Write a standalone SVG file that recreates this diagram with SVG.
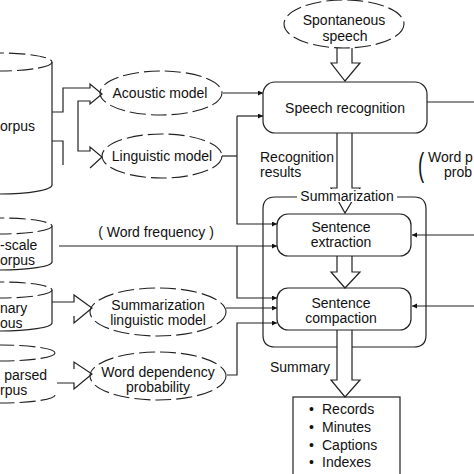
<svg xmlns="http://www.w3.org/2000/svg" width="474" height="474" viewBox="0 0 474 474">
<defs>
<style>
text{font-family:"Liberation Sans",Arial,sans-serif;font-size:14px;fill:#111}
.m{text-anchor:middle}
.e{text-anchor:end}
.ln{fill:none;stroke:#222;stroke-width:1.2}
.dash{fill:none;stroke:#222;stroke-width:1.1;stroke-dasharray:16 5}
.box{fill:#fff;stroke:#222;stroke-width:1.2}
</style>
<marker id="ah" markerWidth="6" markerHeight="6" refX="5" refY="2.5" orient="auto" markerUnits="userSpaceOnUse">
<path d="M0,0 L5,2.5 L0,5 z" fill="#111"/>
</marker>
</defs>
<rect width="474" height="474" fill="#fff"/>

<!-- corpora -->
<g id="corpus1">
<path class="dash" d="M-52,62 A52,9 0 0 1 52,62 M52,62 A52,9 0 0 1 -52,62"/>
<path class="ln" d="M52,62 V185 A52,9 0 0 1 -52,185"/>
<text x="0" y="131">orpus</text>
</g>
<g id="corpus2">
<path class="dash" d="M-52,226 A52,8 0 0 1 52,226 M52,226 A52,8 0 0 1 -52,226"/>
<path class="ln" d="M52,226 V262 A52,8 0 0 1 -52,262"/>
<text x="0" y="250">-scale</text>
<text x="0" y="265">orpus</text>
</g>
<g id="corpus3">
<path class="dash" d="M-52,290 A52,8 0 0 1 52,290 M52,290 A52,8 0 0 1 -52,290"/>
<path class="ln" d="M52,290 V323 A52,8 0 0 1 -52,323"/>
<text x="0" y="313">nary</text>
<text x="0" y="328">ous</text>
</g>
<g id="corpus4">
<ellipse class="dash" cx="0" cy="353" rx="55" ry="8"/>
<path class="dash" d="M55,395 A55,8 0 0 1 -55,395"/>
<text class="e" x="47" y="380">parsed</text>
<text x="0" y="395">rpus</text>
</g>

<!-- models -->
<g id="spontaneous">
<ellipse class="dash" cx="344" cy="24" rx="60" ry="24"/>
<text class="m" x="344" y="25">Spontaneous</text>
<text class="m" x="345" y="41">speech</text>
</g>
<g id="acoustic">
<ellipse class="dash" cx="161" cy="93" rx="61" ry="22"/>
<text class="m" x="160" y="98">Acoustic model</text>
</g>
<g id="linguistic">
<ellipse class="dash" cx="162" cy="156" rx="60" ry="22"/>
<text class="m" x="162" y="161">Linguistic model</text>
</g>
<g id="summlm">
<ellipse class="dash" cx="158" cy="312" rx="68" ry="24"/>
<text class="m" x="158" y="310">Summarization</text>
<text class="m" x="158" y="325">linguistic model</text>
</g>
<g id="worddep">
<ellipse class="dash" cx="158" cy="376" rx="68" ry="24"/>
<text class="m" x="158" y="377">Word dependency</text>
<text class="m" x="158" y="392">probability</text>
</g>

<!-- processing -->
<g id="speechrec">
<rect class="box" x="263" y="82" width="164" height="51" rx="12"/>
<text class="m" x="345" y="113">Speech recognition</text>
</g>
<g id="summarization">
<path class="ln" d="M297,197 H275 Q263,197 263,209 V335 Q263,347 275,347 H337 M352,347 H414 Q426,347 426,335 V209 Q426,197 414,197 H397"/>
</g>
<g id="extraction">
<rect class="box" x="277" y="214" width="134" height="42" rx="11"/>
<text class="m" x="341" y="232">Sentence</text>
<text class="m" x="341" y="247">extraction</text>
</g>
<g id="compaction">
<rect class="box" x="277" y="288" width="134" height="42" rx="11"/>
<text class="m" x="341" y="308">Sentence</text>
<text class="m" x="341" y="323">compaction</text>
</g>
<g id="output">
<rect class="box" x="293" y="397" width="107" height="90"/>
<text x="309" y="414">•<tspan x="322">Records</tspan></text>
<text x="309" y="432">•<tspan x="322">Minutes</tspan></text>
<text x="309" y="450">•<tspan x="322">Captions</tspan></text>
<text x="309" y="467">•<tspan x="322">Indexes</tspan></text>
</g>

<!-- connectors -->
<g id="connectors">
<polyline class="ln" points="52,112 63,112 63,88 90,88 90,84 102,94 90,104 90,101 78,101 78,151 90,151 90,147 102,157 90,168"/>
<polyline class="ln" points="52,141 63,141 63,165"/>
<polyline class="ln" points="52,302 74,302 74,295 92,308 74,323 74,316"/>
<polyline class="ln" points="74,369 74,362 92,374 74,389 74,383 57,383"/>

<path class="ln" d="M223,93 H263" marker-end="url(#ah)"/>
<path class="ln" d="M222,156 H237"/>
<path class="ln" d="M237,116 H263" marker-end="url(#ah)"/>
<path class="ln" d="M237,116 V224 H277" marker-end="url(#ah)"/>
<path class="ln" d="M59,246 H277" marker-end="url(#ah)"/>
<path class="ln" d="M237,246 V298 H277" marker-end="url(#ah)"/>
<path class="ln" d="M226,308 H277" marker-end="url(#ah)"/>
<path class="ln" d="M227,375 H237 V323 H277" marker-end="url(#ah)"/>
<path class="ln" d="M427,102 H474"/>
<path class="ln" d="M474,235 H412" marker-end="url(#ah)"/>
<path class="ln" d="M474,306 H412" marker-end="url(#ah)"/>

<path class="ln" d="M337,48 V63 H331 L345,81 L360,63 H352 V48"/>
<path class="ln" d="M337,133 V188 H331 L345,213 L360,188 H352 V133"/>
<path class="ln" d="M337,256 V272 H331 L345,288 L360,272 H352 V256"/>
<path class="ln" d="M337,330 V380 H331 L345,397 L360,380 H352 V330"/>

<rect x="297" y="189" width="100" height="13" fill="#fff"/>
</g>

<!-- labels -->
<text class="m" x="347" y="201">Summarization</text>
<text x="260" y="162">Recognition</text>
<text x="260" y="177">results</text>
<text x="270" y="372">Summary</text>
<text class="m" x="156" y="237">( Word frequency )</text>
<text transform="translate(418,176) scale(0.55,1)" style="font-size:34px">(</text>
<text x="428" y="162">Word p</text>
<text x="444" y="177">prob</text>
</svg>
